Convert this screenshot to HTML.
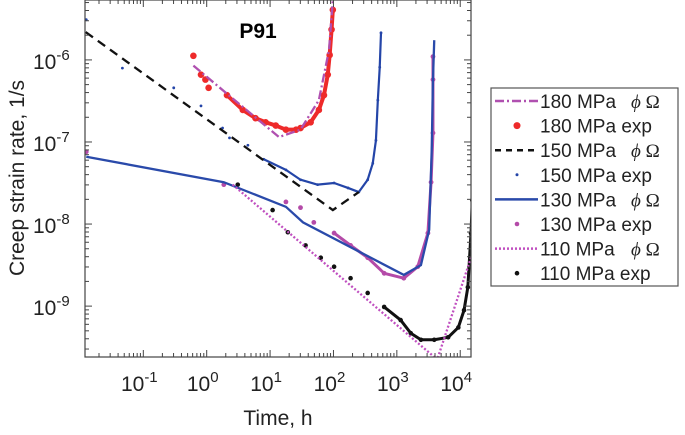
<!DOCTYPE html>
<html><head><meta charset="utf-8"><style>
html,body{margin:0;padding:0;background:#fff;}
svg{display:block;font-family:"Liberation Sans",Arial,sans-serif;}
</style></head><body>
<svg id="chart" width="685" height="435" viewBox="0 0 685 435" xmlns="http://www.w3.org/2000/svg">
<g id="plot"></g>
<text x="258" y="38" font-size="21" font-weight="bold" text-anchor="middle">P91</text>
<text x="0" y="0" font-size="21" fill="#222" text-anchor="middle" transform="translate(24,178) rotate(-90)">Creep strain rate, 1/s</text>
<text x="278" y="425" font-size="21" fill="#222" text-anchor="middle">Time, h</text>
<g id="legend"></g>
</svg>
<script>
const X0=85,X1=471,Y0=0,Y1=357;
const xMinLog=-1.92,xMaxLog=4.17,yMinLog=-9.62,yMaxLog=-5.27;
const xTicks=[-1,0,1,2,3,4];
const yTicks=[-9,-8,-7,-6];
const sx=v=>X0+(v-xMinLog)/(xMaxLog-xMinLog)*(X1-X0);
const sy=v=>Y1-(v-yMinLog)/(yMaxLog-yMinLog)*(Y1-Y0);

// 180 MPa model
const m180T=[-0.21,1.14,1.48,1.77,1.93,1.99];
const m180R=[-6.07,-6.94,-6.85,-6.49,-5.88,-5.27];
// 180 MPa exp
const e180T=[-0.21,-0.09,-0.02,0.03,0.32,0.57,0.77,0.93,1.09,1.25,1.41,1.48,1.64,1.77,1.85,1.91,1.94,1.97,1.99];
const e180R=[-5.95,-6.18,-6.24,-6.34,-6.43,-6.61,-6.71,-6.76,-6.80,-6.85,-6.85,-6.83,-6.76,-6.61,-6.43,-6.18,-5.94,-5.63,-5.39];
// 150 MPa model
const m150T=[-1.91,1.99,2.40];
const m150R=[-5.66,-7.83,-7.61];
// 150 MPa exp
const e150T=[-1.90,-1.33,-0.52,-0.09,0.25,0.36,0.65,0.90,1.25,1.48,1.75,2.01,2.23,2.40,2.54,2.62,2.67,2.70,2.73,2.75];
const e150R=[-5.51,-6.10,-6.34,-6.56,-6.83,-6.95,-7.04,-7.21,-7.34,-7.46,-7.52,-7.50,-7.56,-7.61,-7.46,-7.26,-6.98,-6.49,-6.09,-5.67];
// 130 MPa model
const m130T=[-1.90,0.27,1.25,1.52,3.11,3.38,3.51,3.55,3.57,3.59];
const m130R=[-7.18,-7.49,-7.79,-7.98,-8.62,-8.50,-8.07,-7.10,-6.24,-5.76];
// 130 MPa exp
const e130T=[-1.90,0.27,1.25,1.48,1.69,2.01,2.27,2.54,2.80,3.11,3.33,3.49,3.54,3.57,3.57,3.57];
const e130R=[-7.12,-7.52,-7.73,-7.80,-7.98,-8.11,-8.26,-8.41,-8.60,-8.66,-8.52,-8.11,-7.49,-6.89,-6.24,-5.96];
// 110 MPa model
const m110T=[0.41,3.59,3.65,4.17];
const m110R=[-7.52,-9.62,-9.62,-8.41];
// 110 MPa exp
const e110T=[0.49,1.04,1.28,1.56,1.80,2.01,2.27,2.54,2.80,3.06,3.22,3.38,3.59,3.81,3.97,4.06,4.12,4.17,4.19];
const e110R=[-7.52,-7.83,-8.10,-8.26,-8.41,-8.52,-8.66,-8.84,-9.01,-9.17,-9.33,-9.41,-9.41,-9.38,-9.26,-9.05,-8.77,-8.11,-7.71];

const NS="http://www.w3.org/2000/svg";
const plot=document.getElementById('plot');
function mk(tag,attrs,parent){const e=document.createElementNS(NS,tag);for(const k in attrs)e.setAttribute(k,attrs[k]);(parent||plot).appendChild(e);return e;}

const clip=mk('clipPath',{id:'pc'});
mk('rect',{x:X0,y:Y0,width:X1-X0,height:Y1-Y0},clip);
const series=mk('g',{'clip-path':'url(#pc)'});



function line(T,R,color,w,dash,name){
  const p=mk('polyline',{points:T.map((t,i)=>sx(t)+','+sy(R[i])).join(' '),fill:'none',stroke:color,'stroke-width':w,'stroke-dasharray':dash||'none'},series);
  
  
}
function dots(T,R,color,r,denseFrom,lw,name){
  const g=mk('g',{},series);
  
  
  if(denseFrom<T.length-1){
    const ts=T.slice(denseFrom),rs=R.slice(denseFrom);
    mk('polyline',{points:ts.map((t,i)=>sx(t)+','+sy(rs[i])).join(' '),fill:'none',stroke:color,'stroke-width':lw,'stroke-linejoin':'round'},g);
  }
  T.forEach((t,i)=>{const c=mk('circle',{cx:sx(t),cy:sy(R[i]),r:r,fill:color},g);
    
    });
}
dots(e180T,e180R,'#ee2a2a',3.3,4,4,'exp-180');
dots(e150T,e150R,'#2445a8',1.4,7,2.2,'exp-150');
dots(e130T,e130R,'#b44aa8',2.4,5,3,'exp-130');
dots(e110T,e110R,'#111',2.3,8,3,'exp-110');
line(m180T,m180R,'#b050b0',2.3,'9 3 2 3','model-180');
line(m150T,m150R,'#111',2.3,'9 6','model-150');
line(m130T,m130R,'#2a4aaa',2.3,null,'model-130');
line(m110T,m110R,'#c050c0',2.3,'2 2','model-110');

// frame
const fr=mk('rect',{x:X0,y:Y0,width:X1-X0,height:Y1-Y0,fill:'none',stroke:'#444','stroke-width':1.2});


// ticks
for(let d=-2;d<=4;d++){for(let k=1;k<10;k++){const v=d+Math.log10(k);if(v<xMinLog||v>xMaxLog)continue;const L=k===1?7:4;const x=sx(v);
 mk('line',{x1:x,x2:x,y1:Y1,y2:Y1-L,stroke:'#444'});mk('line',{x1:x,x2:x,y1:Y0,y2:Y0+L,stroke:'#444'});}}
for(let d=-10;d<=-5;d++){for(let k=1;k<10;k++){const v=d+Math.log10(k);if(v<yMinLog||v>yMaxLog)continue;const L=k===1?7:4;const y=sy(v);
 mk('line',{x1:X0,x2:X0+L,y1:y,y2:y,stroke:'#444'});mk('line',{x1:X1,x2:X1-L,y1:y,y2:y,stroke:'#444'});}}
xTicks.forEach(v=>{const t=mk('text',{x:sx(v)-4,y:391,'font-size':21,fill:'#222','text-anchor':'middle'});
 
 t.innerHTML='10<tspan dy="-9" font-size="15">'+v+'</tspan>';});
yTicks.forEach(v=>{const t=mk('text',{x:33,y:sy(v)+9,'font-size':21,fill:'#222'});
 
 t.innerHTML='10<tspan dy="-9" font-size="15">'+v+'</tspan>';});

// legend
const lg=document.getElementById('legend');
const box=mk('rect',{x:491,y:88,width:187,height:198,fill:'#fff',stroke:'#555','stroke-width':1.2},lg);

const entries=[['180 MPa','phi','#b050b0','9 3 2 3'],['180 MPa exp','dot','#ee2a2a',3.5],['150 MPa','phi','#111','6 5'],['150 MPa exp','dot','#2445a8',1.5],['130 MPa','phi','#2a4aaa',null],['130 MPa exp','dot','#b44aa8',2.3],['110 MPa','phi','#c050c0','2 2'],['110 MPa exp','dot','#111',2.3]];
entries.forEach((e,i)=>{const y=101+i*24.6;
 const g=mk('g',{},lg);
 if(e[1]==='phi'){mk('line',{x1:495,x2:538,y1:y,y2:y,stroke:e[2],'stroke-width':2.5,'stroke-dasharray':e[3]||'none'},g);}
 else mk('circle',{cx:517,cy:y,r:e[3],fill:e[2]},g);
 const t=mk('text',{x:540,y:y+7,'font-size':19,fill:'#222'},g);t.textContent=e[0];
 if(e[1]==='phi'){const s=mk('text',{x:631,y:y+7,'font-size':19,fill:'#222','font-family':'Liberation Serif, serif'},g);s.innerHTML='<tspan font-style="italic">ϕ</tspan> Ω';}
});
</script>
</body></html>
